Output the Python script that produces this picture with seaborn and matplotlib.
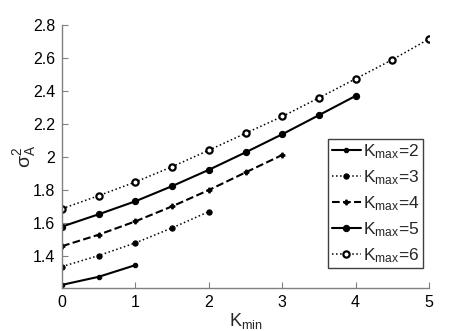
import matplotlib
matplotlib.use("Agg")
import matplotlib.pyplot as plt
import seaborn as sns
import pandas as pd

kmin_2 = [0, 0.5, 1]
var_2 = [1.222, 1.271, 1.342]
kmin_3 = [0, 0.5, 1, 1.5, 2]
var_3 = [1.333, 1.400, 1.477, 1.568, 1.667]
kmin_4 = [0, 0.5, 1, 1.5, 2, 2.5, 3]
var_4 = [1.457, 1.527, 1.608, 1.699, 1.798, 1.905, 2.011]
kmin_5 = [0, 0.5, 1, 1.5, 2, 2.5, 3, 3.5, 4]
var_5 = [1.576, 1.651, 1.730, 1.822, 1.921, 2.027, 2.137, 2.253, 2.370]
kmin_6 = [0, 0.5, 1, 1.5, 2, 2.5, 3, 3.5, 4, 4.5, 5]
var_6 = [1.685, 1.764, 1.847, 1.940, 2.040, 2.143, 2.245, 2.358, 2.474, 2.590, 2.716]
kmax_labels = ["2", "3", "4", "5", "6"]

sns.set_theme(style="white")
plt.rcParams['font.family'] = ['Liberation Sans', 'DejaVu Sans']
plt.rcParams['mathtext.fontset'] = 'custom'
plt.rcParams['mathtext.rm'] = 'Liberation Sans'
plt.rcParams['mathtext.it'] = 'Liberation Sans'

fig = plt.figure(figsize=(4.74, 3.31), dpi=100)
ax = fig.add_axes([0.131, 0.131, 0.774, 0.793])

series = [(kmin_2, var_2), (kmin_3, var_3), (kmin_4, var_4), (kmin_5, var_5), (kmin_6, var_6)]
styles = [
    dict(linestyle='-', marker='o', markersize=3.2, markerfacecolor='black', linewidth=1.5),
    dict(linestyle=':', marker='o', markersize=3.8, markerfacecolor='black', linewidth=1.1),
    dict(linestyle='--', marker='P', markersize=3.5, markerfacecolor='black', linewidth=1.5),
    dict(linestyle='-', marker='o', markersize=4.5, markerfacecolor='black', linewidth=1.5),
    dict(linestyle=':', marker='o', markersize=4.5, markerfacecolor='white', markeredgewidth=1.6, linewidth=1.1),
]
for (xs, ys), lab, st in zip(series, kmax_labels, styles):
    df = pd.DataFrame({"Kmin": xs, "var": ys})
    sns.lineplot(data=df, x="Kmin", y="var", ax=ax, color='black', markeredgecolor='black',
                 label=r"$\mathrm{K}_{\mathrm{max}}$=" + lab, **st)

ax.set_xlim(0, 5)
ax.set_ylim(1.205, 2.8)
ax.set_xticks([0, 1, 2, 3, 4, 5])
ax.set_yticks([1.4, 1.6, 1.8, 2.0, 2.2, 2.4, 2.6, 2.8])
ax.set_yticklabels(["1.4", "1.6", "1.8", "2", "2.2", "2.4", "2.6", "2.8"])
for s in ['top', 'right']:
    ax.spines[s].set_visible(False)
for s in ['left', 'bottom']:
    ax.spines[s].set_color('#808080')
    ax.spines[s].set_linewidth(1.0)
ax.tick_params(axis='both', direction='in', length=4, width=0.8, color='#808080',
               labelsize=11.5, labelcolor='black', pad=5, left=True, bottom=True)
ax.set_xlabel(r"$\mathrm{K}_{\mathrm{min}}$", fontsize=13, labelpad=1)
ax.set_ylabel(r"$\sigma^2_{\mathrm{A}}$", fontsize=14)
ax.yaxis.set_label_coords(-0.065, 0.5)

leg = ax.legend(loc='upper left', bbox_to_anchor=(0.725, 0.567), fontsize=12.5, frameon=True,
                fancybox=False, edgecolor='#404040', handlelength=1.7, handletextpad=0.1,
                borderpad=0.2, labelspacing=0.42, borderaxespad=0, framealpha=1)
leg.get_frame().set_linewidth(1.0)

fig.savefig("out.png", dpi=100)
